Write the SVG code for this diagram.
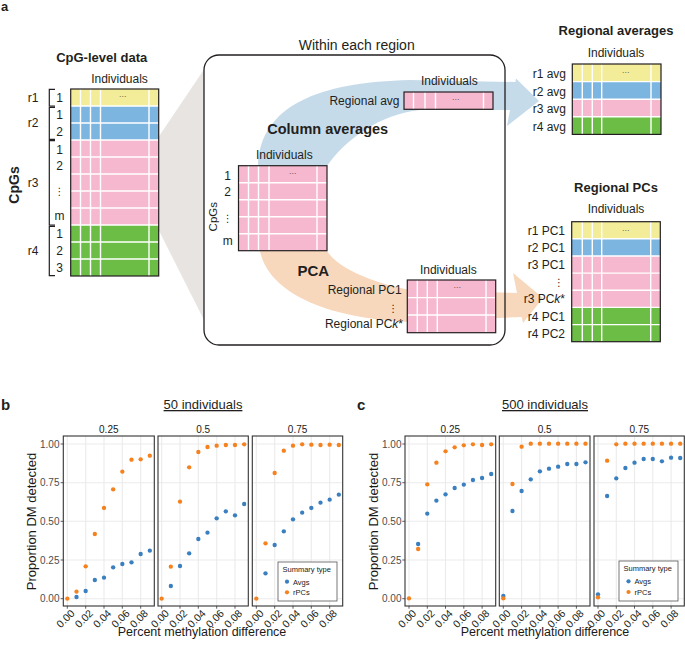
<svg xmlns="http://www.w3.org/2000/svg" width="685" height="645" viewBox="0 0 685 645">
<style>
text{font-family:"Liberation Sans",Arial,sans-serif;fill:#231f20}
.bd{font-weight:bold}
.s12{font-size:12px}
.s11{font-size:11.5px}
.mid{text-anchor:middle}
.end{text-anchor:end}
.dots{font-size:8px;text-anchor:middle}
.vd{font-family:"DejaVu Sans",sans-serif;font-size:10px;text-anchor:middle}
.Y{fill:#f3ec99}.B{fill:#7db5e1}.P{fill:#f6b8ce}.G{fill:#6cbd45}
.wl{stroke:#fff;stroke-width:1.4;fill:none}
.fr{fill:none;stroke:#231f20;stroke-width:1.2}
.br{fill:none;stroke:#231f20;stroke-width:1.2}
.grid{stroke:#ebebeb;stroke-width:1.1}
.pf{fill:none;stroke:#333;stroke-width:1.1}
.tk{stroke:#333;stroke-width:0.8}
.tl{font-size:10px;fill:#4d4d4d}
.xl{font-size:10.5px;fill:#4d4d4d}
.strip{font-size:10px;fill:#1a1a1a;text-anchor:middle}
.ax{font-size:12.5px;fill:#1a1a1a;text-anchor:middle}
.ay{font-size:13px;fill:#1a1a1a;text-anchor:middle}
.av{fill:#3a7fc0}
.rp{fill:#f5821f}
.lg{font-size:7.5px;fill:#1a1a1a}
</style>

<text x="1" y="11" class="bd" style="font-size:13px">a</text>

<g id="connectors">
  <path id="funnel" d="M158.7 136.7 L205 68 L205 322 L158.7 230 Z" fill="#e7e4e1"/>
  <rect x="204" y="55" width="301" height="290" rx="15" fill="#fff"/>
  <path id="arrow-avg" d="M258 166 C260 105 320 82 410 80 L515.4 82 L516 78.5 L539 101 L507 126 L510 110 L420 110 C380 114 345 140 327 166 Z" fill="#c6dbea"/>
  <path id="arrow-pca" d="M260 251 C268 290 320 318 410 322 L521.8 317 L523 323 L543 298 L513 273 L517 293 L410 290 C370 282 338 268 327 251 Z" fill="#f7d8bd"/>
</g>

<g id="cpg-data">
  <text x="101.7" y="62" class="bd mid" style="font-size:13px">CpG-level data</text>
  <text x="119.5" y="83" class="s12 mid">Individuals</text>
  <text transform="translate(18.5,185) rotate(-90)" class="bd mid" style="font-size:14px">CpGs</text>
  <rect x="70.7" y="89" width="88" height="17" class="Y"/>
  <rect x="70.7" y="106" width="88" height="34" class="B"/>
  <rect x="70.7" y="140" width="88" height="85" class="P"/>
  <rect x="70.7" y="225" width="88" height="51" class="G"/>
  <path class="wl" d="M70.7 106H158.7M70.7 123H158.7M70.7 140H158.7M70.7 157H158.7M70.7 174H158.7M70.7 191H158.7M70.7 208H158.7M70.7 225H158.7M70.7 242H158.7M70.7 259H158.7M80.5 89V276M90.5 89V276M100.5 89V276M149 89V276"/>
  <rect x="70.7" y="89" width="88" height="187" class="fr"/>
  <text x="122.7" y="97" class="dots">…</text>
  <path class="br" d="M55 89.3H49.3V106H55M55 107.3H49.3V139.3H55M55 140.7H49.3V225H55M55 226.3H49.3V275.7H55"/>
  <text x="33" y="101.5" class="s12 mid">r1</text>
  <text x="33" y="127" class="s12 mid">r2</text>
  <text x="33" y="186.5" class="s12 mid">r3</text>
  <text x="33" y="254.5" class="s12 mid">r4</text>
  <text x="59.5" y="102" class="s12 mid">1</text>
  <text x="59.5" y="119" class="s12 mid">1</text>
  <text x="59.5" y="136" class="s12 mid">2</text>
  <text x="59.5" y="154" class="s12 mid">1</text>
  <text x="59.5" y="170" class="s12 mid">2</text>
  <text x="59.5" y="195" class="vd">⋮</text>
  <text x="59.5" y="220" class="s12 mid">m</text>
  <text x="59.5" y="238" class="s12 mid">1</text>
  <text x="59.5" y="255" class="s12 mid">2</text>
  <text x="59.5" y="272" class="s12 mid">3</text>
</g>

<g id="within-region">
  <text x="356.7" y="49.5" class="mid" style="font-size:14px">Within each region</text>
  <text x="327.7" y="133.5" class="bd mid" style="font-size:14.5px">Column averages</text>
  <text x="313.3" y="275.5" class="bd mid" style="font-size:15px">PCA</text>
</g>

<g id="regional-avg-vector">
  <text x="449.3" y="85" class="s12 mid">Individuals</text>
  <text x="399.5" y="104.5" class="s12 end">Regional avg</text>
  <rect x="404" y="92" width="89" height="17.3" class="P"/>
  <path class="wl" d="M413.5 92V109.3M425 92V109.3M435.5 92V109.3M483.5 92V109.3"/>
  <rect x="404" y="92" width="89" height="17.3" class="fr"/>
  <text x="455.7" y="100" class="dots">…</text>
</g>

<g id="region-matrix">
  <text x="284.3" y="158.5" class="s12 mid">Individuals</text>
  <text transform="translate(216.5,216.7) rotate(-90)" class="s11 mid">CpGs</text>
  <text x="227.7" y="180" class="s12 mid">1</text>
  <text x="227.7" y="195.5" class="s12 mid">2</text>
  <text x="227.7" y="222" class="vd">⋮</text>
  <text x="227.7" y="245" class="s12 mid">m</text>
  <rect x="238.5" y="165.7" width="88.5" height="85" class="P"/>
  <path class="wl" d="M238.5 182.7H327M238.5 199.7H327M238.5 216.7H327M238.5 233.7H327M248.5 165.7V250.7M258.5 165.7V250.7M269 165.7V250.7M317 165.7V250.7"/>
  <rect x="238.5" y="165.7" width="88.5" height="85" class="fr"/>
  <text x="292.7" y="174" class="dots">…</text>
</g>

<g id="pc-matrix">
  <text x="448.3" y="273.5" class="s12 mid">Individuals</text>
  <text x="401.7" y="293.5" class="s12 end">Regional PC1</text>
  <text x="393.3" y="312" class="vd">⋮</text>
  <text x="403" y="328" class="s12 end">Regional PC<tspan font-style="italic">k</tspan>*</text>
  <rect x="407.3" y="280" width="88.4" height="52.7" class="P"/>
  <path class="wl" d="M407.3 297.6H495.7M407.3 315H495.7M417.3 280V332.7M427.3 280V332.7M437.3 280V332.7M486 280V332.7"/>
  <rect x="407.3" y="280" width="88.4" height="52.7" class="fr"/>
  <text x="457.3" y="288" class="dots">…</text>
</g>

<rect id="box-outline" x="204" y="55" width="301" height="290" rx="15" fill="none" stroke="#231f20" stroke-width="1.3"/>

<g id="regional-averages">
  <text x="616" y="35" class="bd mid" style="font-size:13px">Regional averages</text>
  <text x="616" y="57" class="s12 mid">Individuals</text>
  <text x="566" y="78" class="s12 end">r1 avg</text>
  <text x="566" y="95.5" class="s12 end">r2 avg</text>
  <text x="566" y="113" class="s12 end">r3 avg</text>
  <text x="566" y="130.5" class="s12 end">r4 avg</text>
  <rect x="572.3" y="64" width="88.7" height="17.6" class="Y"/>
  <rect x="572.3" y="81.6" width="88.7" height="17.6" class="B"/>
  <rect x="572.3" y="99.2" width="88.7" height="17.6" class="P"/>
  <rect x="572.3" y="116.8" width="88.7" height="17.6" class="G"/>
  <path class="wl" d="M572.3 81.6H661M572.3 99.2H661M572.3 116.8H661M582.3 64V134.4M592.3 64V134.4M601.7 64V134.4M651 64V134.4"/>
  <rect x="572.3" y="64" width="88.7" height="70.4" class="fr"/>
  <text x="625.7" y="73" class="dots">…</text>
</g>

<g id="regional-pcs">
  <text x="616" y="191.5" class="bd mid" style="font-size:13px">Regional PCs</text>
  <text x="616" y="213" class="s12 mid">Individuals</text>
  <text x="565" y="234.8" class="s12 end">r1 PC1</text>
  <text x="565" y="251.9" class="s12 end">r2 PC1</text>
  <text x="565" y="269.1" class="s12 end">r3 PC1</text>
  <text x="559" y="286" class="vd">⋮</text>
  <text x="565" y="303.4" class="s12 end">r3 PC<tspan font-style="italic">k</tspan>*</text>
  <text x="565" y="320.5" class="s12 end">r4 PC1</text>
  <text x="565" y="337.6" class="s12 end">r4 PC2</text>
  <rect x="571.7" y="221.7" width="88.6" height="17.1" class="Y"/>
  <rect x="571.7" y="238.8" width="88.6" height="17.2" class="B"/>
  <rect x="571.7" y="256" width="88.6" height="51.4" class="P"/>
  <rect x="571.7" y="307.4" width="88.6" height="34.3" class="G"/>
  <path class="wl" d="M571.7 238.8H660.3M571.7 256H660.3M571.7 273.1H660.3M571.7 290.3H660.3M571.7 307.4H660.3M571.7 324.6H660.3M582.3 221.7V341.7M592.3 221.7V341.7M601.7 221.7V341.7M650.7 221.7V341.7"/>
  <rect x="571.7" y="221.7" width="88.6" height="120" class="fr"/>
  <text x="625.7" y="230.5" class="dots">…</text>
</g>

<!-- Panel b -->
<g id="panel-b">
  <text x="1" y="410" class="bd" style="font-size:15px">b</text>
  <text x="203" y="409" class="mid" style="font-size:13px;text-decoration:underline">50 individuals</text>
  <text x="108.8" y="433" class="strip">0.25</text>
  <text x="203.2" y="433" class="strip">0.5</text>
  <text x="297.6" y="433" class="strip">0.75</text>
  <path class="grid" d="M63.3 444H154.3M63.3 482.7H154.3M63.3 521.3H154.3M63.3 560H154.3M63.3 598.7H154.3M67.3 436V606M85.7 436V606M104 436V606M122.3 436V606M140.7 436V606
  M158 444H248.3M158 482.7H248.3M158 521.3H248.3M158 560H248.3M158 598.7H248.3M161.7 436V606M180 436V606M198.3 436V606M216.7 436V606M235 436V606
  M252.3 444H342.7M252.3 482.7H342.7M252.3 521.3H342.7M252.3 560H342.7M252.3 598.7H342.7M256.3 436V606M274.7 436V606M293 436V606M311.3 436V606M329.7 436V606"/>
  <g transform="translate(0,340) scale(0.33333)">
    <g class="av">
      <circle cx="229.5" cy="771" r="6.5"/><circle cx="257" cy="753" r="6.5"/><circle cx="284.5" cy="720" r="6.5"/><circle cx="312" cy="713" r="6.5"/><circle cx="339.5" cy="682" r="6.5"/><circle cx="367" cy="672" r="6.5"/><circle cx="394.5" cy="667" r="6.5"/><circle cx="422" cy="642" r="6.5"/><circle cx="449.5" cy="632" r="6.5"/>
      <circle cx="512.5" cy="738" r="6.5"/><circle cx="540" cy="678" r="6.5"/><circle cx="567.5" cy="640" r="6.5"/><circle cx="595" cy="597" r="6.5"/><circle cx="622.5" cy="578" r="6.5"/><circle cx="650" cy="535" r="6.5"/><circle cx="677.5" cy="514" r="6.5"/><circle cx="705" cy="526" r="6.5"/><circle cx="732.5" cy="492" r="6.5"/>
      <circle cx="796.5" cy="700" r="6.5"/><circle cx="824" cy="615" r="6.5"/><circle cx="851.5" cy="574" r="6.5"/><circle cx="879" cy="538" r="6.5"/><circle cx="906.5" cy="518" r="6.5"/><circle cx="934" cy="504" r="6.5"/><circle cx="961.5" cy="488" r="6.5"/><circle cx="989" cy="479" r="6.5"/><circle cx="1016.5" cy="464" r="6.5"/>
    </g>
    <g class="rp">
      <circle cx="202" cy="776" r="6.5"/><circle cx="229.5" cy="755" r="6.5"/><circle cx="257" cy="679" r="6.5"/><circle cx="284.5" cy="582" r="6.5"/><circle cx="312" cy="504" r="6.5"/><circle cx="339.5" cy="448" r="6.5"/><circle cx="367" cy="395" r="6.5"/><circle cx="394.5" cy="359" r="6.5"/><circle cx="422" cy="358" r="6.5"/><circle cx="449.5" cy="347" r="6.5"/>
      <circle cx="485" cy="776" r="6.5"/><circle cx="512.5" cy="680" r="6.5"/><circle cx="540" cy="485" r="6.5"/><circle cx="567.5" cy="382" r="6.5"/><circle cx="595" cy="336" r="6.5"/><circle cx="622.5" cy="321" r="6.5"/><circle cx="650" cy="317" r="6.5"/><circle cx="677.5" cy="315" r="6.5"/><circle cx="705" cy="315" r="6.5"/><circle cx="732.5" cy="313" r="6.5"/>
      <circle cx="769" cy="776" r="6.5"/><circle cx="796.5" cy="610" r="6.5"/><circle cx="824" cy="399" r="6.5"/><circle cx="851.5" cy="332" r="6.5"/><circle cx="879" cy="317" r="6.5"/><circle cx="906.5" cy="313" r="6.5"/><circle cx="934" cy="314" r="6.5"/><circle cx="961.5" cy="315" r="6.5"/><circle cx="989" cy="314" r="6.5"/><circle cx="1016.5" cy="315" r="6.5"/>
    </g>
  </g>
  <rect x="63.3" y="436" width="91" height="170" class="pf"/>
  <rect x="158" y="436" width="90.3" height="170" class="pf"/>
  <rect x="252.3" y="436" width="90.4" height="170" class="pf"/>
  <path class="tk" d="M60.6 444H63.3M60.6 482.7H63.3M60.6 521.3H63.3M60.6 560H63.3M60.6 598.7H63.3
  M67.3 606V608.7M85.7 606V608.7M104 606V608.7M122.3 606V608.7M140.7 606V608.7
  M161.7 606V608.7M180 606V608.7M198.3 606V608.7M216.7 606V608.7M235 606V608.7
  M256.3 606V608.7M274.7 606V608.7M293 606V608.7M311.3 606V608.7M329.7 606V608.7"/>
  <text x="59.5" y="447.5" class="tl end">1.00</text>
  <text x="59.5" y="486.2" class="tl end">0.75</text>
  <text x="59.5" y="524.8" class="tl end">0.50</text>
  <text x="59.5" y="563.5" class="tl end">0.25</text>
  <text x="59.5" y="602.2" class="tl end">0.00</text>
  <g class="xl">
    <text transform="translate(75.3,614) rotate(-45)" text-anchor="end">0.00</text>
    <text transform="translate(93.7,614) rotate(-45)" text-anchor="end">0.02</text>
    <text transform="translate(112,614) rotate(-45)" text-anchor="end">0.04</text>
    <text transform="translate(130.3,614) rotate(-45)" text-anchor="end">0.06</text>
    <text transform="translate(148.7,614) rotate(-45)" text-anchor="end">0.08</text>
    <text transform="translate(169.7,614) rotate(-45)" text-anchor="end">0.00</text>
    <text transform="translate(188,614) rotate(-45)" text-anchor="end">0.02</text>
    <text transform="translate(206.3,614) rotate(-45)" text-anchor="end">0.04</text>
    <text transform="translate(224.7,614) rotate(-45)" text-anchor="end">0.06</text>
    <text transform="translate(243,614) rotate(-45)" text-anchor="end">0.08</text>
    <text transform="translate(264.3,614) rotate(-45)" text-anchor="end">0.00</text>
    <text transform="translate(282.7,614) rotate(-45)" text-anchor="end">0.02</text>
    <text transform="translate(301,614) rotate(-45)" text-anchor="end">0.04</text>
    <text transform="translate(319.3,614) rotate(-45)" text-anchor="end">0.06</text>
    <text transform="translate(337.7,614) rotate(-45)" text-anchor="end">0.08</text>
  </g>
  <text transform="translate(36,521.5) rotate(-90)" class="ay">Proportion DM detected</text>
  <text x="202" y="636" class="ax">Percent methylation difference</text>
  <g id="legend-b">
    <rect x="278" y="562" width="59" height="39" fill="#fff" stroke="#555" stroke-width="0.8"/>
    <text x="282.5" y="572" class="lg">Summary type</text>
    <circle cx="287" cy="581.7" r="2.1" class="av"/>
    <text x="293" y="584.5" class="lg">Avgs</text>
    <circle cx="287" cy="592.3" r="2.1" class="rp"/>
    <text x="293" y="595" class="lg">rPCs</text>
  </g>
</g>

<!-- Panel c -->
<g id="panel-c">
  <text x="357" y="410" class="bd" style="font-size:15px">c</text>
  <text x="545" y="409" class="mid" style="font-size:13px;text-decoration:underline">500 individuals</text>
  <text x="450.3" y="433" class="strip">0.25</text>
  <text x="544.7" y="433" class="strip">0.5</text>
  <text x="639.3" y="433" class="strip">0.75</text>
  <path class="grid" d="M405 444H495.7M405 482.7H495.7M405 521.3H495.7M405 560H495.7M405 598.7H495.7M409 436V606M427.3 436V606M445.5 436V606M463.8 436V606M482.1 436V606
  M499.3 444H590M499.3 482.7H590M499.3 521.3H590M499.3 560H590M499.3 598.7H590M503.3 436V606M521.6 436V606M539.9 436V606M558.1 436V606M576.4 436V606
  M594 444H684.3M594 482.7H684.3M594 521.3H684.3M594 560H684.3M594 598.7H684.3M598 436V606M616.3 436V606M634.5 436V606M652.8 436V606M671.1 436V606"/>
  <g transform="translate(330,340) scale(0.33333)">
    <g class="av">
      <circle cx="264.4" cy="612" r="6.5"/><circle cx="291.8" cy="521" r="6.5"/><circle cx="319.2" cy="482" r="6.5"/><circle cx="346.6" cy="463" r="6.5"/><circle cx="374" cy="444" r="6.5"/><circle cx="401.4" cy="434" r="6.5"/><circle cx="428.8" cy="420" r="6.5"/><circle cx="456.2" cy="414" r="6.5"/><circle cx="483.6" cy="402" r="6.5"/>
      <circle cx="520" cy="768" r="6.5"/><circle cx="547.4" cy="513" r="6.5"/><circle cx="574.8" cy="453" r="6.5"/><circle cx="602.2" cy="418" r="6.5"/><circle cx="629.6" cy="394" r="6.5"/><circle cx="657" cy="386" r="6.5"/><circle cx="684.4" cy="380" r="6.5"/><circle cx="711.8" cy="372" r="6.5"/><circle cx="739.2" cy="372" r="6.5"/><circle cx="766.6" cy="367" r="6.5"/>
      <circle cx="804" cy="763" r="6.5"/><circle cx="831.4" cy="468" r="6.5"/><circle cx="858.8" cy="415" r="6.5"/><circle cx="886.2" cy="384" r="6.5"/><circle cx="913.6" cy="368" r="6.5"/><circle cx="941" cy="357" r="6.5"/><circle cx="968.4" cy="357" r="6.5"/><circle cx="995.8" cy="364" r="6.5"/><circle cx="1023.2" cy="353" r="6.5"/><circle cx="1050.6" cy="354" r="6.5"/>
    </g>
    <g class="rp">
      <circle cx="237" cy="775" r="6.5"/><circle cx="264.4" cy="627" r="6.5"/><circle cx="291.8" cy="433" r="6.5"/><circle cx="319.2" cy="368" r="6.5"/><circle cx="346.6" cy="334" r="6.5"/><circle cx="374" cy="322" r="6.5"/><circle cx="401.4" cy="316" r="6.5"/><circle cx="428.8" cy="313" r="6.5"/><circle cx="456.2" cy="315" r="6.5"/><circle cx="483.6" cy="313" r="6.5"/>
      <circle cx="520" cy="775" r="6.5"/><circle cx="547.4" cy="432" r="6.5"/><circle cx="574.8" cy="320" r="6.5"/><circle cx="602.2" cy="311" r="6.5"/><circle cx="629.6" cy="311" r="6.5"/><circle cx="657" cy="311" r="6.5"/><circle cx="684.4" cy="311" r="6.5"/><circle cx="711.8" cy="311" r="6.5"/><circle cx="739.2" cy="311" r="6.5"/><circle cx="766.6" cy="311" r="6.5"/>
      <circle cx="804" cy="772" r="6.5"/><circle cx="831.4" cy="362" r="6.5"/><circle cx="858.8" cy="313" r="6.5"/><circle cx="886.2" cy="311" r="6.5"/><circle cx="913.6" cy="311" r="6.5"/><circle cx="941" cy="311" r="6.5"/><circle cx="968.4" cy="311" r="6.5"/><circle cx="995.8" cy="311" r="6.5"/><circle cx="1023.2" cy="311" r="6.5"/><circle cx="1050.6" cy="311" r="6.5"/>
    </g>
  </g>
  <rect x="405" y="436" width="90.7" height="170" class="pf"/>
  <rect x="499.3" y="436" width="90.7" height="170" class="pf"/>
  <rect x="594" y="436" width="90.3" height="170" class="pf"/>
  <path class="tk" d="M402.3 444H405M402.3 482.7H405M402.3 521.3H405M402.3 560H405M402.3 598.7H405
  M409 606V608.7M427.3 606V608.7M445.5 606V608.7M463.8 606V608.7M482.1 606V608.7
  M503.3 606V608.7M521.6 606V608.7M539.9 606V608.7M558.1 606V608.7M576.4 606V608.7
  M598 606V608.7M616.3 606V608.7M634.5 606V608.7M652.8 606V608.7M671.1 606V608.7"/>
  <text x="401.5" y="447.5" class="tl end">1.00</text>
  <text x="401.5" y="486.2" class="tl end">0.75</text>
  <text x="401.5" y="524.8" class="tl end">0.50</text>
  <text x="401.5" y="563.5" class="tl end">0.25</text>
  <text x="401.5" y="602.2" class="tl end">0.00</text>
  <g class="xl">
    <text transform="translate(417,614) rotate(-45)" text-anchor="end">0.00</text>
    <text transform="translate(435.3,614) rotate(-45)" text-anchor="end">0.02</text>
    <text transform="translate(453.5,614) rotate(-45)" text-anchor="end">0.04</text>
    <text transform="translate(471.8,614) rotate(-45)" text-anchor="end">0.06</text>
    <text transform="translate(490.1,614) rotate(-45)" text-anchor="end">0.08</text>
    <text transform="translate(511.3,614) rotate(-45)" text-anchor="end">0.00</text>
    <text transform="translate(529.6,614) rotate(-45)" text-anchor="end">0.02</text>
    <text transform="translate(547.9,614) rotate(-45)" text-anchor="end">0.04</text>
    <text transform="translate(566.1,614) rotate(-45)" text-anchor="end">0.06</text>
    <text transform="translate(584.4,614) rotate(-45)" text-anchor="end">0.08</text>
    <text transform="translate(606,614) rotate(-45)" text-anchor="end">0.00</text>
    <text transform="translate(624.3,614) rotate(-45)" text-anchor="end">0.02</text>
    <text transform="translate(642.5,614) rotate(-45)" text-anchor="end">0.04</text>
    <text transform="translate(660.8,614) rotate(-45)" text-anchor="end">0.06</text>
    <text transform="translate(679.1,614) rotate(-45)" text-anchor="end">0.08</text>
  </g>
  <text transform="translate(378,521.5) rotate(-90)" class="ay">Proportion DM detected</text>
  <text x="545" y="636" class="ax">Percent methylation difference</text>
  <g id="legend-c">
    <rect x="619" y="561" width="59" height="40" fill="#fff" stroke="#555" stroke-width="0.8"/>
    <text x="623.5" y="571" class="lg">Summary type</text>
    <circle cx="628.5" cy="581.3" r="2.1" class="av"/>
    <text x="634.5" y="584" class="lg">Avgs</text>
    <circle cx="628.5" cy="592" r="2.1" class="rp"/>
    <text x="634.5" y="594.7" class="lg">rPCs</text>
  </g>
</g>
</svg>
